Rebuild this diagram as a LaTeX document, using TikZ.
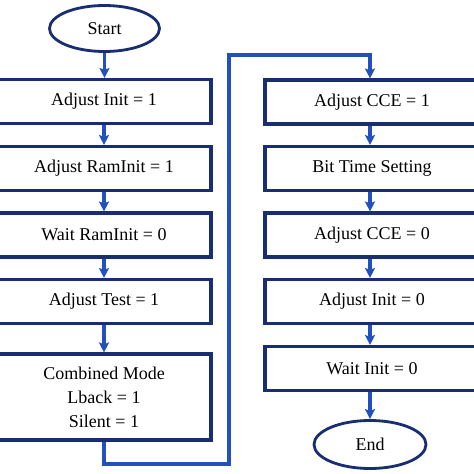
\documentclass[tikz,border=0pt]{standalone}
\usepackage{fontspec}
\setmainfont{Liberation Serif}
\usetikzlibrary{arrows.meta,shapes.geometric}
\definecolor{boxcol}{RGB}{24,46,112}
\definecolor{arrcol}{RGB}{34,80,188}
\tikzset{
  stepbox/.style={draw=boxcol, line width=3.1pt, fill=white, minimum width=214pt, minimum height=44pt, inner sep=0pt, font=\fontsize{18}{24}\selectfont, align=center},
  term/.style={draw=boxcol, ellipse, line width=2.8pt, fill=white, inner sep=0pt, font=\fontsize{18}{24}\selectfont},
  conn/.style={draw=arrcol, line width=3.2pt, -{Stealth[length=10pt,width=10pt,inset=2pt]}},
}
\begin{document}
\begin{tikzpicture}[x=1pt,y=-1pt]
\useasboundingbox (0,0) rectangle (474,474);
\clip (0,0) rectangle (474,474);
\fill[white] (0,0) rectangle (474,474);
% left column
\node[term, minimum width=110pt, minimum height=46pt] (start) at (104.5,28.5) {Start};
\node[stepbox] (b1) at (104,101.5) {Adjust Init = 1};
\node[stepbox] (b2) at (104,168.5) {Adjust RamInit = 1};
\node[stepbox] (b3) at (104,235) {Wait RamInit = 0};
\node[stepbox] (b4) at (104,301.5) {Adjust Test = 1};
\node[stepbox, minimum height=86pt] (b5) at (104,397) {Combined Mode\\Lback = 1\\Silent = 1};
% right column
\node[stepbox] (r1) at (372,102) {Adjust CCE = 1};
\node[stepbox] (r2) at (372,168.5) {Bit Time Setting};
\node[stepbox] (r3) at (372,235) {Adjust CCE = 0};
\node[stepbox] (r4) at (372,301.5) {Adjust Init = 0};
\node[stepbox] (r5) at (372,368.5) {Wait Init = 0};
\node[term, minimum width=112pt, minimum height=48pt] (end) at (370,444.5) {End};
% connectors
\draw[conn] (start.south) -- (start.south |- b1.north);
\draw[conn] (b1.south) -- (b2.north);
\draw[conn] (b2.south) -- (b3.north);
\draw[conn] (b3.south) -- (b4.north);
\draw[conn] (b4.south) -- (b5.north);
\coordinate (c1) at (229,464);
\coordinate (c2) at (229,55);
\coordinate (c3) at (370,55);
\draw[conn] (b5.south) |- (c1) -- (c2) -- (c3) -- (c3 |- r1.north);
\draw[conn] (r1.south -| c3) -- (c3 |- r2.north);
\draw[conn] (r2.south -| c3) -- (c3 |- r3.north);
\draw[conn] (r3.south -| c3) -- (c3 |- r4.north);
\draw[conn] (r4.south -| c3) -- (c3 |- r5.north);
\draw[conn] (r5.south -| c3) -- (end.north);
\end{tikzpicture}
\end{document}
